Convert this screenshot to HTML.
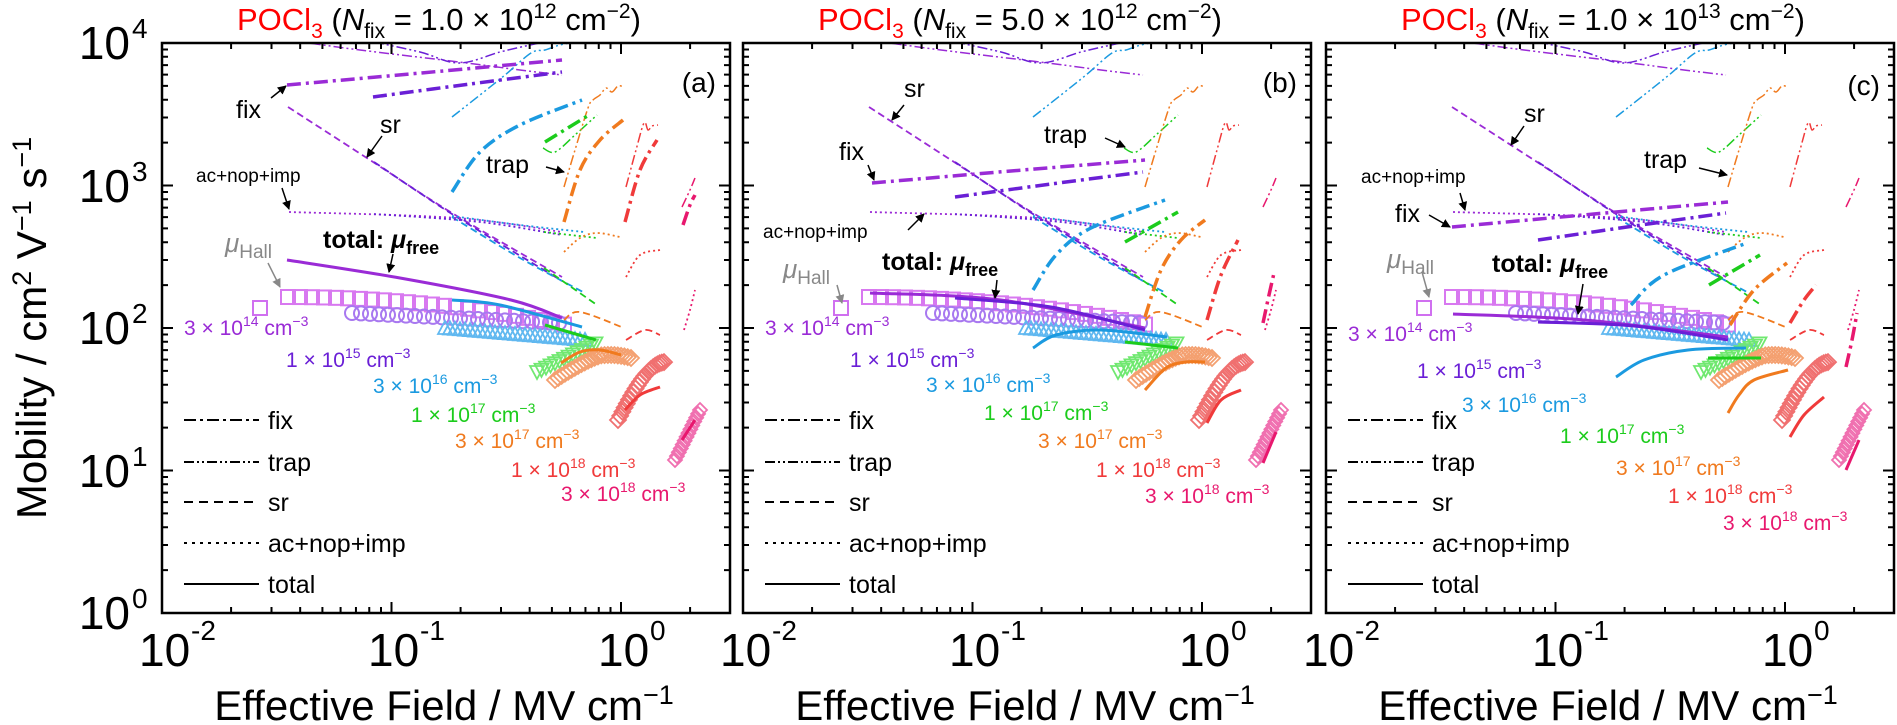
<!DOCTYPE html>
<html><head><meta charset="utf-8"><style>
body{margin:0;background:#fff}
svg{display:block;font-family:"Liberation Sans",Arial,sans-serif}
</style></head><body>
<div style="position:relative;width:1897px;height:725px">
<svg id="s" width="1897" height="725" viewBox="0 0 1897 725" xmlns="http://www.w3.org/2000/svg" style="position:absolute;left:0;top:0">
<defs>
<clipPath id="c0"><rect x="162" y="43" width="568" height="570"/></clipPath>
<clipPath id="c1"><rect x="743" y="43" width="568" height="570"/></clipPath>
<clipPath id="c2"><rect x="1326" y="43" width="568" height="570"/></clipPath>
</defs>
<g id="plots"></g>
<g id="axes"></g>
</svg>
<svg width="1897" height="725" style="position:absolute;left:0;top:0">
<defs>
<marker id="bh" markerWidth="9" markerHeight="9" refX="8" refY="4.5" orient="auto" markerUnits="userSpaceOnUse"><path d="M0,0 L9,4.5 L0,9 z" fill="#000"/></marker>
<marker id="gh" markerWidth="9" markerHeight="9" refX="8" refY="4.5" orient="auto" markerUnits="userSpaceOnUse"><path d="M0,0 L9,4.5 L0,9 z" fill="#888"/></marker>
</defs>

<text transform="translate(46,328) rotate(-90)" text-anchor="middle" font-size="42">Mobility / cm<tspan dy="-15" font-size="27">2</tspan><tspan dy="15"> V</tspan><tspan dy="-15" font-size="27">−1</tspan><tspan dy="15"> s</tspan><tspan dy="-15" font-size="27">−1</tspan></text>
<g font-size="46" text-anchor="end">
<text x="130" y="59">10</text><text x="132" y="38" text-anchor="start" font-size="28">4</text>
<text x="130" y="202">10</text><text x="132" y="181" text-anchor="start" font-size="28">3</text>
<text x="130" y="344">10</text><text x="132" y="323" text-anchor="start" font-size="28">2</text>
<text x="130" y="487">10</text><text x="132" y="466" text-anchor="start" font-size="28">1</text>
<text x="130" y="629">10</text><text x="132" y="608" text-anchor="start" font-size="28">0</text>
</g>

<!-- ===== Panel (a) ===== -->
<g>
<text x="237" y="30" font-size="31"><tspan fill="#f00">POCl</tspan><tspan fill="#f00" font-size="21" dy="8">3</tspan><tspan dy="-8"> (</tspan><tspan font-style="italic">N</tspan><tspan font-size="21" dy="8">fix</tspan><tspan dy="-8"> = 1.0 × 10</tspan><tspan font-size="21" dy="-12">12</tspan><tspan dy="12"> cm</tspan><tspan font-size="21" dy="-12">−2</tspan><tspan dy="12">)</tspan></text>
<text x="716" y="92" font-size="28" text-anchor="end">(a)</text>
<g font-size="46">
<text x="139" y="666">10</text><text x="191" y="640" font-size="28">-2</text>
<text x="368" y="666">10</text><text x="420" y="640" font-size="28">-1</text>
<text x="598" y="666">10</text><text x="650" y="640" font-size="28">0</text>
</g>
<text x="444" y="720" text-anchor="middle" font-size="42">Effective Field / MV cm<tspan dy="-16" font-size="27">−1</tspan></text>
<g font-size="25"><text x="236" y="118">fix</text><text x="380" y="133">sr</text><text x="486" y="173">trap</text></g>
<text x="196" y="182" font-size="19">ac+nop+imp</text>
<text x="225" y="252" font-size="26" fill="#888" font-style="italic">μ<tspan font-size="19" dy="6" font-style="normal">Hall</tspan></text>
<text x="323" y="248" font-size="25" font-weight="bold">total: <tspan font-style="italic">μ</tspan><tspan font-size="18" dy="6">free</tspan></text>
<g stroke-width="1.5" fill="none">
<path d="M271,98 L286,86" stroke="#000" marker-end="url(#bh)"/>
<path d="M382,136 L367,157" stroke="#000" marker-end="url(#bh)"/>
<path d="M282,188 L289,209" stroke="#000" marker-end="url(#bh)"/>
<path d="M268,263 L280,287" stroke="#888" marker-end="url(#gh)"/>
<path d="M393,254 L389,272" stroke="#000" marker-end="url(#bh)"/>
<path d="M546,167 L564,172" stroke="#000" marker-end="url(#bh)"/>
</g>
<g font-size="21">
<text x="184" y="335" fill="#9a2bd6">3 × 10<tspan font-size="14" dy="-9">14</tspan><tspan dy="9"> cm</tspan><tspan font-size="14" dy="-9">−3</tspan></text>
<text x="286" y="367" fill="#6a1fd6">1 × 10<tspan font-size="14" dy="-9">15</tspan><tspan dy="9"> cm</tspan><tspan font-size="14" dy="-9">−3</tspan></text>
<text x="373" y="393" fill="#1b9ae0">3 × 10<tspan font-size="14" dy="-9">16</tspan><tspan dy="9"> cm</tspan><tspan font-size="14" dy="-9">−3</tspan></text>
<text x="411" y="422" fill="#1ccc1c">1 × 10<tspan font-size="14" dy="-9">17</tspan><tspan dy="9"> cm</tspan><tspan font-size="14" dy="-9">−3</tspan></text>
<text x="455" y="448" fill="#f07a1e">3 × 10<tspan font-size="14" dy="-9">17</tspan><tspan dy="9"> cm</tspan><tspan font-size="14" dy="-9">−3</tspan></text>
<text x="511" y="477" fill="#f03a3a">1 × 10<tspan font-size="14" dy="-9">18</tspan><tspan dy="9"> cm</tspan><tspan font-size="14" dy="-9">−3</tspan></text>
<text x="561" y="501" fill="#e8186e">3 × 10<tspan font-size="14" dy="-9">18</tspan><tspan dy="9"> cm</tspan><tspan font-size="14" dy="-9">−3</tspan></text>
</g>
<g font-size="25"><text x="268" y="429">fix</text><text x="268" y="471">trap</text><text x="268" y="511">sr</text><text x="268" y="552">ac+nop+imp</text><text x="268" y="593">total</text></g>
</g>

<!-- ===== Panel (b) ===== -->
<g transform="translate(581,0)">
<text x="237" y="30" font-size="31"><tspan fill="#f00">POCl</tspan><tspan fill="#f00" font-size="21" dy="8">3</tspan><tspan dy="-8"> (</tspan><tspan font-style="italic">N</tspan><tspan font-size="21" dy="8">fix</tspan><tspan dy="-8"> = 5.0 × 10</tspan><tspan font-size="21" dy="-12">12</tspan><tspan dy="12"> cm</tspan><tspan font-size="21" dy="-12">−2</tspan><tspan dy="12">)</tspan></text>
<text x="716" y="92" font-size="28" text-anchor="end">(b)</text>
<g font-size="46">
<text x="139" y="666">10</text><text x="191" y="640" font-size="28">-2</text>
<text x="368" y="666">10</text><text x="420" y="640" font-size="28">-1</text>
<text x="598" y="666">10</text><text x="650" y="640" font-size="28">0</text>
</g>
<text x="444" y="720" text-anchor="middle" font-size="42">Effective Field / MV cm<tspan dy="-16" font-size="27">−1</tspan></text>
<g font-size="25"><text x="258" y="160">fix</text><text x="323" y="97">sr</text><text x="463" y="143">trap</text></g>
<text x="182" y="238" font-size="19">ac+nop+imp</text>
<text x="202" y="278" font-size="26" fill="#888" font-style="italic">μ<tspan font-size="19" dy="6" font-style="normal">Hall</tspan></text>
<text x="301" y="270" font-size="25" font-weight="bold">total: <tspan font-style="italic">μ</tspan><tspan font-size="18" dy="6">free</tspan></text>
<g stroke-width="1.5" fill="none">
<path d="M287,165 L293,180" stroke="#000" marker-end="url(#bh)"/>
<path d="M323,105 L311,120" stroke="#000" marker-end="url(#bh)"/>
<path d="M327,230 L343,214" stroke="#000" marker-end="url(#bh)"/>
<path d="M256,285 L261,303" stroke="#888" marker-end="url(#gh)"/>
<path d="M416,280 L414,298" stroke="#000" marker-end="url(#bh)"/>
<path d="M524,138 L544,147" stroke="#000" marker-end="url(#bh)"/>
</g>
<g font-size="21">
<text x="184" y="335" fill="#9a2bd6">3 × 10<tspan font-size="14" dy="-9">14</tspan><tspan dy="9"> cm</tspan><tspan font-size="14" dy="-9">−3</tspan></text>
<text x="269" y="367" fill="#6a1fd6">1 × 10<tspan font-size="14" dy="-9">15</tspan><tspan dy="9"> cm</tspan><tspan font-size="14" dy="-9">−3</tspan></text>
<text x="345" y="392" fill="#1b9ae0">3 × 10<tspan font-size="14" dy="-9">16</tspan><tspan dy="9"> cm</tspan><tspan font-size="14" dy="-9">−3</tspan></text>
<text x="403" y="420" fill="#1ccc1c">1 × 10<tspan font-size="14" dy="-9">17</tspan><tspan dy="9"> cm</tspan><tspan font-size="14" dy="-9">−3</tspan></text>
<text x="457" y="448" fill="#f07a1e">3 × 10<tspan font-size="14" dy="-9">17</tspan><tspan dy="9"> cm</tspan><tspan font-size="14" dy="-9">−3</tspan></text>
<text x="515" y="477" fill="#f03a3a">1 × 10<tspan font-size="14" dy="-9">18</tspan><tspan dy="9"> cm</tspan><tspan font-size="14" dy="-9">−3</tspan></text>
<text x="564" y="503" fill="#e8186e">3 × 10<tspan font-size="14" dy="-9">18</tspan><tspan dy="9"> cm</tspan><tspan font-size="14" dy="-9">−3</tspan></text>
</g>
<g font-size="25"><text x="268" y="429">fix</text><text x="268" y="471">trap</text><text x="268" y="511">sr</text><text x="268" y="552">ac+nop+imp</text><text x="268" y="593">total</text></g>
</g>

<!-- ===== Panel (c) ===== -->
<g transform="translate(1164,0)">
<text x="237" y="30" font-size="31"><tspan fill="#f00">POCl</tspan><tspan fill="#f00" font-size="21" dy="8">3</tspan><tspan dy="-8"> (</tspan><tspan font-style="italic">N</tspan><tspan font-size="21" dy="8">fix</tspan><tspan dy="-8"> = 1.0 × 10</tspan><tspan font-size="21" dy="-12">13</tspan><tspan dy="12"> cm</tspan><tspan font-size="21" dy="-12">−2</tspan><tspan dy="12">)</tspan></text>
<text x="716" y="95" font-size="28" text-anchor="end">(c)</text>
<g font-size="46">
<text x="139" y="666">10</text><text x="191" y="640" font-size="28">-2</text>
<text x="368" y="666">10</text><text x="420" y="640" font-size="28">-1</text>
<text x="598" y="666">10</text><text x="650" y="640" font-size="28">0</text>
</g>
<text x="444" y="720" text-anchor="middle" font-size="42">Effective Field / MV cm<tspan dy="-16" font-size="27">−1</tspan></text>
<g font-size="25"><text x="231" y="222">fix</text><text x="360" y="122">sr</text><text x="480" y="168">trap</text></g>
<text x="197" y="183" font-size="19">ac+nop+imp</text>
<text x="223" y="268" font-size="26" fill="#888" font-style="italic">μ<tspan font-size="19" dy="6" font-style="normal">Hall</tspan></text>
<text x="328" y="272" font-size="25" font-weight="bold">total: <tspan font-style="italic">μ</tspan><tspan font-size="18" dy="6">free</tspan></text>
<g stroke-width="1.5" fill="none">
<path d="M265,215 L286,227" stroke="#000" marker-end="url(#bh)"/>
<path d="M360,126 L347,145" stroke="#000" marker-end="url(#bh)"/>
<path d="M296,193 L301,210" stroke="#000" marker-end="url(#bh)"/>
<path d="M258,272 L265,297" stroke="#888" marker-end="url(#gh)"/>
<path d="M419,284 L414,314" stroke="#000" marker-end="url(#bh)"/>
<path d="M535,168 L563,175" stroke="#000" marker-end="url(#bh)"/>
</g>
<g font-size="21">
<text x="184" y="341" fill="#9a2bd6">3 × 10<tspan font-size="14" dy="-9">14</tspan><tspan dy="9"> cm</tspan><tspan font-size="14" dy="-9">−3</tspan></text>
<text x="253" y="378" fill="#6a1fd6">1 × 10<tspan font-size="14" dy="-9">15</tspan><tspan dy="9"> cm</tspan><tspan font-size="14" dy="-9">−3</tspan></text>
<text x="298" y="412" fill="#1b9ae0">3 × 10<tspan font-size="14" dy="-9">16</tspan><tspan dy="9"> cm</tspan><tspan font-size="14" dy="-9">−3</tspan></text>
<text x="396" y="443" fill="#1ccc1c">1 × 10<tspan font-size="14" dy="-9">17</tspan><tspan dy="9"> cm</tspan><tspan font-size="14" dy="-9">−3</tspan></text>
<text x="452" y="475" fill="#f07a1e">3 × 10<tspan font-size="14" dy="-9">17</tspan><tspan dy="9"> cm</tspan><tspan font-size="14" dy="-9">−3</tspan></text>
<text x="504" y="503" fill="#f03a3a">1 × 10<tspan font-size="14" dy="-9">18</tspan><tspan dy="9"> cm</tspan><tspan font-size="14" dy="-9">−3</tspan></text>
<text x="559" y="530" fill="#e8186e">3 × 10<tspan font-size="14" dy="-9">18</tspan><tspan dy="9"> cm</tspan><tspan font-size="14" dy="-9">−3</tspan></text>
</g>
<g font-size="25"><text x="268" y="429">fix</text><text x="268" y="471">trap</text><text x="268" y="511">sr</text><text x="268" y="552">ac+nop+imp</text><text x="268" y="593">total</text></g>
</g>
</svg>
</div>
<script>
(function(){
const NS="http://www.w3.org/2000/svg";
const plots=document.getElementById('plots'), axes=document.getElementById('axes');
const P=[162,743,1326], OFF=[0,581,1164];
function el(tag,attrs,parent){const e=document.createElementNS(NS,tag);for(const k in attrs)e.setAttribute(k,attrs[k]);(parent||plots).appendChild(e);return e;}
const C={a:'#9a2bd6',b:'#6a1fd6',c:'#1b9ae0',d:'#1ccc1c',e:'#f07a1e',f:'#f03a3a',g:'#e8186e'};
const ST={fix:{w:3.5,d:'14 5 3 5'},trap:{w:1.5,d:'10 3 2 3 2 3'},sr:{w:1.8,d:'7 4'},ac:{w:1.8,d:'2 3'},tot:{w:3,d:''}};
function smooth(pts){
 if(pts.length<3){return 'M'+pts.map(p=>p.join(',')).join(' L');}
 let d='M'+pts[0][0]+','+pts[0][1];
 for(let i=0;i<pts.length-1;i++){
  const p0=pts[i-1]||pts[i],p1=pts[i],p2=pts[i+1],p3=pts[i+2]||p2;
  const c1=[p1[0]+(p2[0]-p0[0])/6,p1[1]+(p2[1]-p0[1])/6];
  const c2=[p2[0]-(p3[0]-p1[0])/6,p2[1]-(p3[1]-p1[1])/6];
  d+=` C${c1[0]},${c1[1]} ${c2[0]},${c2[1]} ${p2[0]},${p2[1]}`;
 }
 return d;
}
function line(g,o,pts,col,st){
 const q=pts.map(p=>[p[0]+o,p[1]]);
 const a={d:smooth(q),fill:'none',stroke:col,'stroke-width':ST[st].w};
 if(ST[st].d)a['stroke-dasharray']=ST[st].d;
 el('path',a,g);
}
const common=[
 ['a','trap',[[288,40],[360,50],[459,62],[520,70],[562,75]]],
 ['b','trap',[[374,42],[420,52],[459,63],[500,52],[530,45],[562,38]]],
 ['c','trap',[[452,117],[480,95],[505,75],[531,53],[545,50],[560,45],[584,40]]],
 ['d','trap',[[543,148],[555,152],[575,135],[597,115]]],
 ['e','trap',[[564,187],[575,150],[588,108],[593,100],[600,95],[606,88],[612,92],[618,86],[624,87]]],
 ['f','trap',[[626,187],[636,150],[644,123],[648,130],[652,126],[658,125]]],
 ['g','trap',[[682,207],[690,190],[695,178]]],
 ['a','sr',[[288,107],[370,160],[452,213],[562,277]]],
 ['b','sr',[[374,162],[452,214],[562,281]]],
 ['c','sr',[[452,217],[520,258],[583,292]]],
 ['d','sr',[[544,268],[597,305]]],
 ['e','sr',[[564,320],[580,312],[624,328]]],
 ['f','sr',[[626,340],[645,330],[660,335]]],
 ['a','ac',[[289,212],[457,218],[562,232]]],
 ['b','ac',[[374,214],[480,222],[562,235]]],
 ['c','ac',[[452,216],[520,225],[584,232]]],
 ['d','ac',[[544,232],[597,238]]],
 ['e','ac',[[564,252],[580,238],[597,233],[620,237]]],
 ['f','ac',[[626,277],[640,255],[660,250]]],
 ['g','ac',[[684,330],[690,310],[695,290]]]
];
const per=[
 [
 ['a','fix',[[287,85],[421,73],[562,60]]],
 ['b','fix',[[373,97],[470,84],[562,72]]],
 ['c','fix',[[452,192],[480,152],[520,125],[582,100]]],
 ['d','fix',[[545,142],[589,115]]],
 ['e','fix',[[564,222],[580,170],[600,140],[623,120]]],
 ['f','fix',[[625,222],[640,170],[657,140]]],
 ['g','fix',[[683,225],[690,205],[695,195]]],
 ['a','tot',[[287,260],[400,278],[511,300],[562,318]]],
 ['c','tot',[[452,300],[500,305],[582,327]]],
 ['d','tot',[[545,325],[596,340]]],
 ['e','tot',[[561,363],[580,352],[600,350],[621,355]]],
 ['f','tot',[[625,410],[640,395],[660,387]]],
 ['g','tot',[[682,440],[695,420]]]
 ],
 [
 ['a','fix',[[291,183],[430,171],[564,160]]],
 ['b','fix',[[374,197],[470,184],[562,172]]],
 ['c','fix',[[452,290],[475,255],[510,228],[584,200]]],
 ['d','fix',[[544,242],[597,212]]],
 ['e','fix',[[564,317],[580,270],[600,240],[624,220]]],
 ['f','fix',[[626,320],[640,275],[657,240]]],
 ['g','fix',[[682,323],[688,295],[693,273]]],
 ['a','tot',[[289,293],[420,300],[564,328]]],
 ['b','tot',[[374,298],[470,307],[564,330]]],
 ['c','tot',[[452,348],[475,335],[520,330],[586,337]]],
 ['d','tot',[[544,342],[597,348]]],
 ['e','tot',[[564,390],[585,368],[605,362],[624,362]]],
 ['f','tot',[[626,423],[640,400],[660,390]]],
 ['g','tot',[[682,463],[695,432]]]
 ],
 [
 ['a','fix',[[288,227],[430,214],[564,202]]],
 ['b','fix',[[374,240],[470,226],[562,213]]],
 ['c','fix',[[467,305],[500,275],[583,243]]],
 ['d','fix',[[545,285],[596,255]]],
 ['e','fix',[[566,325],[590,290],[623,263]]],
 ['f','fix',[[626,323],[640,300],[652,285]]],
 ['g','fix',[[682,367],[688,340],[693,313]]],
 ['a','tot',[[289,314],[420,320],[564,337]]],
 ['b','tot',[[374,322],[470,326],[564,340]]],
 ['c','tot',[[452,377],[480,360],[524,350],[582,348]]],
 ['d','tot',[[544,358],[597,358]]],
 ['e','tot',[[564,413],[575,395],[590,380],[624,370]]],
 ['f','tot',[[626,437],[640,415],[660,397]]],
 ['g','tot',[[682,470],[695,440]]]
 ]
];
function markers(g,o){
 el('rect',{x:260+o-7,y:301,width:14,height:14,fill:'none',stroke:'#d070f0','stroke-width':2},g);
 for(let x=288;x<=566;x+=12){const t=(x-288)/278;const y=297+t*t*28;
  el('rect',{x:x+o-7,y:y-7,width:14,height:14,fill:'none',stroke:'#d878f0','stroke-width':2},g);}
 for(let x=352;x<=560;x+=9){const t=(x-352)/208;const y=313+t*10;
  el('circle',{cx:x+o,cy:y,r:7,fill:'none',stroke:'#a878f0','stroke-width':2},g);}
 for(let x=445;x<=586;x+=5){const t=(x-445)/141;const y=328+t*12;
  el('path',{d:`M${x+o-7},${y+6} L${x+o},${y-7} L${x+o+7},${y+6} Z`,fill:'none',stroke:'#60b8f0','stroke-width':1.8},g);}
 for(let k=0;k<14;k++){const x=537+k*4.5;const y=372-k*2.2;
  el('path',{d:`M${x+o-7},${y-6} L${x+o},${y+7} L${x+o+7},${y-6} Z`,fill:'none',stroke:'#70e870','stroke-width':1.8},g);}
 for(let k=0;k<24;k++){const t=k/23;const x=555+t*76;const y=380-Math.sin(t*1.6)*30+(t>0.6?(t-0.6)*20:0);
  el('path',{d:`M${x+o},${y-8} L${x+o+8},${y} L${x+o},${y+8} L${x+o-8},${y} Z`,fill:'none',stroke:'#f4a070','stroke-width':1.8},g);}
 for(let k=0;k<22;k++){const t=k/21;const x=618+t*46;const y=420-Math.sin(t*1.5)*58;
  el('path',{d:`M${x+o},${y-8} L${x+o+8},${y} L${x+o},${y+8} L${x+o-8},${y} Z`,fill:'none',stroke:'#f07070','stroke-width':1.8},g);}
 for(let k=0;k<14;k++){const t=k/13;const x=675+t*25;const y=460-t*50;
  el('path',{d:`M${x+o},${y-7} L${x+o+7},${y} L${x+o},${y+7} L${x+o-7},${y} Z`,fill:'none',stroke:'#f070b0','stroke-width':1.8},g);}
}
for(let i=0;i<3;i++){
 const g=el('g',{'clip-path':`url(#c${i})`});
 const o=OFF[i];
 markers(g,o);
 common.forEach(c=>line(g,o,c[2],C[c[0]],c[1]));
 per[i].forEach(c=>line(g,o,c[2],C[c[0]],c[1]));
 const x0=P[i],y0=43,w=568,h=570;
 el('rect',{x:x0,y:y0,width:w,height:h,fill:'none',stroke:'#000','stroke-width':2.5},axes);
 let d='';
 for(let dec=-2;dec<=0;dec++)for(let m=1;m<=9;m++){
  const x=x0+(dec+2+Math.log10(m))*229.5; if(x<=x0+1||x>=x0+w)continue;
  const L=m==1?11:6; d+=`M${x},${y0+h}v${-L}M${x},${y0}v${L}`;
 }
 for(let dec=0;dec<=3;dec++)for(let m=1;m<=9;m++){
  const y=613-(dec+Math.log10(m))*142.5; if(y>=612||y<=44)continue;
  const L=m==1?11:6; d+=`M${x0},${y}h${L}M${x0+w},${y}h${-L}`;
 }
 el('path',{d:d,stroke:'#000','stroke-width':2,fill:'none'},axes);
 const lg=[['fix',420],['trap',462],['sr',502],['ac',543],['tot',584]];
 lg.forEach(l=>el('path',{d:`M${184+o},${l[1]}H${259+o}`,stroke:'#000','stroke-width':2,'stroke-dasharray':l[0]=='tot'?'':(l[0]=='fix'?'12 4 3 4':l[0]=='trap'?'10 3 2 3 2 3':l[0]=='sr'?'9 6':'3 5'),fill:'none'},axes));
}
})();
</script>
</body></html>
